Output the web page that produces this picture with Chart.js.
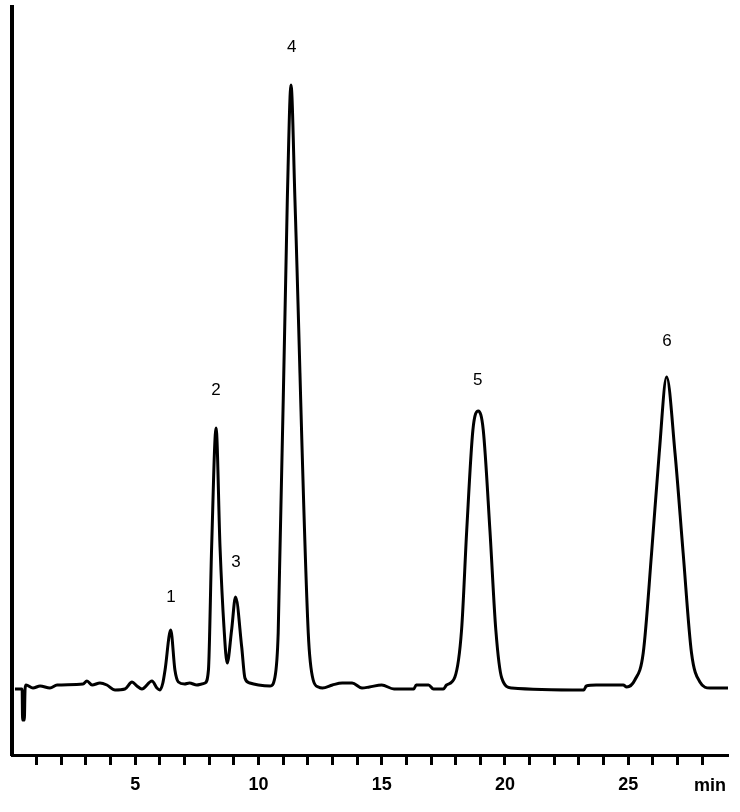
<!DOCTYPE html>
<html>
<head>
<meta charset="utf-8">
<script src="https://cdn.jsdelivr.net/npm/chart.js@4/dist/chart.umd.min.js"></script>
<style>
  html, body { margin: 0; padding: 0; background: #ffffff; }
  #wrap { width: 740px; height: 812px; position: relative; }
</style>
</head>
<body>
<div id="wrap"><canvas id="c" width="740" height="812"></canvas></div>
<script>
// Retention time (min) and detector signal (arbitrary units, baseline = 0)
const times = [
  0.12, 0.41, 0.43, 0.50, 0.53, 0.57, 0.85, 1.14, 1.54, 1.83, 2.88, 3.04, 3.25, 3.57, 3.85,
  4.18, 4.58, 4.87, 5.07, 5.27, 5.68, 5.88, 6.00, 6.12, 6.21, 6.44, 6.61, 6.75, 7.00, 7.20,
  7.50, 7.70, 7.83, 7.97, 8.10, 8.28, 8.44, 8.60, 8.73, 8.91, 9.07, 9.32, 9.45, 9.65, 10.00,
  10.47, 10.67, 10.80, 11.17, 11.32, 11.48, 12.02, 12.22, 12.43, 12.60, 13.00, 13.40, 13.80, 14.20,
  14.50, 15.00, 15.50, 16.30, 16.40, 16.90, 17.10, 17.50, 17.63, 17.97, 18.24, 18.45, 18.70, 18.92,
  19.12, 19.39, 19.63, 19.87, 20.27, 23.20, 23.30, 23.70, 24.80, 24.94, 25.27, 25.61, 25.95, 26.26,
  26.56, 26.90, 27.23, 27.57, 27.91, 28.32, 29.05
];
const signal = [
  -2, -2, -33, -33, -2, 2, -1, 1, -1, 2, 3, 6, 2, 4, 2,
  -3, -2, 5, 1, -2, 6, -1, -3, 4, 17, 57, 17, 5, 3, 4,
  2, 3, 4, 17, 140, 259, 140, 60, 24, 57, 90, 40, 9, 4, 2,
  1, 10, 54, 487, 602, 487, 54, 7, 0, -1, 2, 4, 4, -1,
  0, 2, -2, -2, 2, 2, -2, -2, 2, 10, 57, 157, 257, 276,
  257, 157, 57, 9, -1, -3, 1, 2, 2, 0, 7, 34, 134, 234,
  310, 234, 134, 34, 5, -1, -1
];
// Axis ticks
const tickValues = [1,2,3,4,5,6,7,8,9,10,11,12,13,14,15,16,17,18,19,20,21,22,23,24,25,26,27,28];
const tickLabels = [5, 10, 15, 20, 25];
const unitLabel = 'min';
const unitLabelTime = 28.32;
// Peak labels
const peakNames = ['1', '2', '3', '4', '5', '6'];
const peakLabelTimes = [6.45, 8.28, 9.09, 11.35, 18.90, 26.57];
const peakLabelHeights = [90, 297, 125, 640, 307, 346];

const labelPlugin = {
  id: 'peakLabels',
  afterDraw(chart) {
    const ctx = chart.ctx;
    const xs = chart.scales.x, ys = chart.scales.y;
    ctx.save();
    ctx.fillStyle = '#000000';
    ctx.textAlign = 'center';
    ctx.textBaseline = 'middle';
    ctx.font = '17px "Liberation Sans", Arial, sans-serif';
    peakNames.forEach((n, i) => {
      ctx.fillText(n, xs.getPixelForValue(peakLabelTimes[i]), ys.getPixelForValue(peakLabelHeights[i]));
    });
    ctx.font = 'bold 18px "Liberation Sans", Arial, sans-serif';
    ctx.fillText(unitLabel, xs.getPixelForValue(unitLabelTime), 786);
    ctx.restore();
  }
};

new Chart(document.getElementById('c'), {
  type: 'line',
  data: {
    datasets: [{
      data: times.map((t, i) => ({ x: t, y: signal[i] })),
      borderColor: '#000000',
      borderWidth: 3,
      pointRadius: 0,
      fill: false,
      cubicInterpolationMode: 'monotone',
      borderJoinStyle: 'round'
    }]
  },
  options: {
    responsive: false,
    animation: false,
    devicePixelRatio: 1,
    layout: { padding: { top: 7, right: 12, left: 0, bottom: 0 } },
    plugins: { legend: { display: false }, tooltip: { enabled: false } },
    scales: {
      x: {
        type: 'linear',
        min: 0,
        max: 29.05,
        afterBuildTicks(scale) { scale.ticks = tickValues.map(v => ({ value: v })); },
        afterFit(scale) { scale.height = 57; },
        ticks: {
          autoSkip: false,
          maxRotation: 0,
          padding: 9,
          color: '#000000',
          font: { family: '"Liberation Sans", Arial, sans-serif', size: 18, weight: 'bold' },
          callback: (v) => tickLabels.includes(v) ? String(v) : ''
        },
        grid: {
          drawOnChartArea: false,
          drawTicks: true,
          tickLength: 10,
          tickWidth: 3,
          tickColor: '#000000'
        },
        border: { display: true, color: '#000000', width: 3 }
      },
      y: {
        min: -68,
        max: 680,
        afterFit(scale) { scale.width = 12; },
        ticks: { display: false },
        grid: { display: true, drawOnChartArea: false, drawTicks: false },
        border: { display: true, color: '#000000', width: 4 }
      }
    }
  },
  plugins: [labelPlugin]
});
</script>
</body>
</html>
